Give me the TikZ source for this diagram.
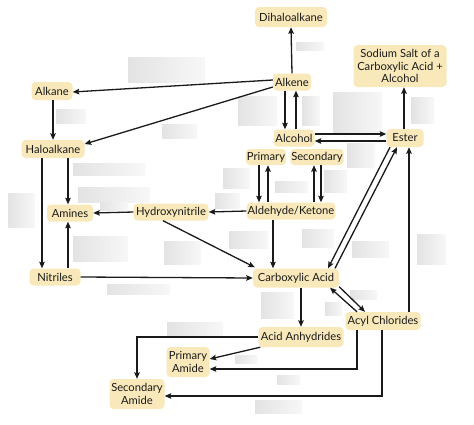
\documentclass[tikz,border=0pt]{standalone}
\usepackage{fontspec}
\setmainfont{Lato}
\usetikzlibrary{arrows.meta,calc}
\definecolor{boxfill}{HTML}{F8E8BA}
\definecolor{ink}{HTML}{1A1A1A}
\tikzset{
  cbox/.style={fill=boxfill, rounded corners=4pt, text=ink, inner xsep=1pt, inner ysep=2pt,
    minimum height=18pt, font=\fontsize{11.2}{12.2}\selectfont, align=center},
  arr/.style={draw=ink, line width=1.3pt, -{Stealth[length=6.5pt,width=5.5pt,inset=1pt]}},
  blur/.style={left color=black!11, right color=black!3, draw=none}
}
\begin{document}
\begin{tikzpicture}[x=1pt,y=-1pt]
\useasboundingbox (0,0) rectangle (474,424);
% faint obscured label areas
\foreach \a/\b/\c/\d in {128/57/205/82, 56/109/86/123, 162/124/197/138, 73/163/145/175,
  78/187/150/202, 8/193/35/227, 100/202/128/210, 238/96/277/125, 302/96/320/125,
  333/92/382/132, 347/143/375/167, 223/168/250/188, 275/181/308/192, 324/170/347/192,
  215/193/240/208, 296/42/324/50, 411/97/434/123, 73/236/128/261, 164/241/201/264,
  107/284/170/294, 167/322/223/335, 229/231/268/248, 302/229/334/247, 352/241/389/257,
  417/234/446/264, 261/292/294/318, 325/302/342/315, 350/290/377/299, 235/355/257/363,
  277/375/300/384, 255/400/302/413}
  \shade[blur] (\a,\b) rectangle (\c,\d);
% nodes
\node[cbox, minimum width=72pt, minimum height=20pt] (dihalo) at (291,17) {Dihaloalkane};
\node[cbox, minimum width=93pt, minimum height=42pt] (sodium) at (400,66) {Sodium Salt of a\\Carboxylic Acid +\\Alcohol};
\node[cbox, minimum width=38pt, minimum height=17pt] (alkene) at (292,82) {Alkene};
\node[cbox, minimum width=41pt] (alkane) at (52,91) {Alkane};
\node[cbox, minimum width=63pt] (halo) at (53,149) {Haloalkane};
\node[cbox, minimum width=41pt, minimum height=17pt] (alcohol) at (294,138) {Alcohol};
\node[cbox, minimum width=37pt] (ester) at (405,138) {Ester};
\node[cbox, minimum width=40pt, minimum height=16pt] (primary) at (266,157) {Primary};
\node[cbox, minimum width=51pt, minimum height=16pt] (secondary) at (317,157) {Secondary};
\node[cbox, minimum width=83pt, minimum height=17pt] (ald) at (291,211) {Aldehyde/Ketone};
\node[cbox, minimum width=75pt, minimum height=17pt] (hydroxy) at (171,212) {Hydroxynitrile};
\node[cbox, minimum width=46pt, minimum height=17pt] (amines) at (70,213) {Amines};
\node[cbox, minimum width=51pt, minimum height=17pt] (nitriles) at (55,277) {Nitriles};
\node[cbox, minimum width=86pt, minimum height=19pt] (carb) at (296,278) {Carboxylic Acid};
\node[cbox, minimum width=75pt] (acyl) at (383,321) {Acyl Chlorides};
\node[cbox, minimum width=85pt, minimum height=20pt] (anh) at (301,337) {Acid Anhydrides};
\node[cbox, minimum width=43pt, minimum height=30pt] (pamide) at (188,362) {Primary\\Amide};
\node[cbox, minimum width=55pt, minimum height=30pt] (samide) at (137,394) {Secondary\\Amide};
% connectors
\draw[arr] (alkene.north) -- (dihalo.south);
\draw[arr] (alkene.west |- 0,80) -- (alkane.east |- 0,92);
\draw[arr] (alkene.west |- 0,87) -- (halo.east |- 0,144);
\draw[arr] (alkene.south -| 285,0) -- (alcohol.north -| 285,0);
\draw[arr] (alcohol.north -| 296,0) -- (alkene.south -| 296,0);
\draw[arr] (alcohol.east |- 0,134) -- (ester.west |- 0,134);
\draw[arr] (ester.west |- 0,141) -- (alcohol.east |- 0,141);
\draw[arr] (ester.north -| 404,0) -- (sodium.south -| 404,0);
\draw[arr] (primary.south -| 259,0) -- (ald.north -| 259,0);
\draw[arr] (ald.north -| 268,0) -- (primary.south -| 268,0);
\draw[arr] (ald.north -| 314,0) -- (secondary.south -| 314,0);
\draw[arr] (secondary.south -| 321,0) -- (ald.north -| 321,0);
\draw[arr] (ald.west) -- (hydroxy.east);
\draw[arr] (hydroxy.west) -- (amines.east);
\draw[arr] (alkane.south -| 53,0) -- (halo.north -| 53,0);
\draw[arr] (halo.south -| 68,0) -- (amines.north -| 68,0);
\draw[arr] (halo.south -| 42,0) -- (nitriles.north -| 42,0);
\draw[arr] (nitriles.north -| 68,0) -- (amines.south -| 68,0);
\draw[arr] (nitriles.east) -- (carb.west);
\draw[arr] (hydroxy.south -| 163,0) -- ($(carb.north west)+(2,-1)$);
\draw[arr] (ald.south -| 273,0) -- (carb.north -| 273,0);
\draw[arr] (ester.south -| 390,0) -- (carb.north -| 328,0);
\draw[arr] (carb.north -| 335,0) -- (ester.south -| 397,0);
\draw[arr] (acyl.north -| 357,0) -- (carb.south -| 330,0);
\draw[arr] ($(carb.south east)+(0,-1)$) -- (acyl.north -| 365,0);
\draw[arr] (acyl.north -| 409,0) -- (ester.south -| 409,0);
\draw[arr] (carb.south -| 301,0) -- (anh.north -| 301,0);
\draw[arr] ($(anh.south west)+(2,0)$) -- (pamide.east |- 0,359);
\draw[arr] (anh.west) -| (samide.north);
\draw[arr] (acyl.south -| 357,0) |- (pamide.east |- 0,369);
\draw[arr] (acyl.south -| 382,0) |- (samide.east |- 0,396);
\end{tikzpicture}
\end{document}
